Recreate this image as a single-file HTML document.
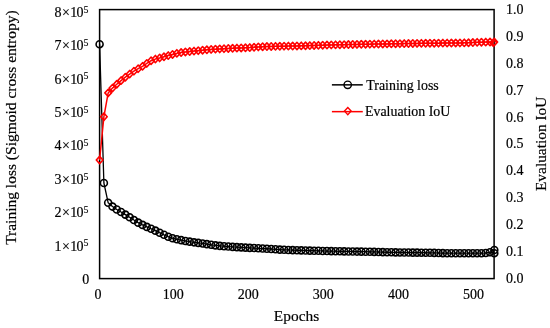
<!DOCTYPE html>
<html><head><meta charset="utf-8"><style>
html,body{margin:0;padding:0;background:#fff;}
svg{display:block;}
text{font-family:"Liberation Serif","Times New Roman",serif;fill:#000;stroke:#000;stroke-width:0.18px;}
</style></head><body>
<svg width="550" height="328" viewBox="0 0 550 328">
<rect x="0" y="0" width="550" height="328" fill="#fff"/>
<g font-size="14">
<text x="82.3" y="283.90">0</text><text y="250.50"><tspan x="54.4">1</tspan><tspan x="62.05">×</tspan><tspan x="70.25">1</tspan><tspan x="76.45">0</tspan><tspan x="83.7" y="246.45" font-size="9.3">5</tspan></text><text y="217.10"><tspan x="54.4">2</tspan><tspan x="62.05">×</tspan><tspan x="70.25">1</tspan><tspan x="76.45">0</tspan><tspan x="83.7" y="213.05" font-size="9.3">5</tspan></text><text y="183.70"><tspan x="54.4">3</tspan><tspan x="62.05">×</tspan><tspan x="70.25">1</tspan><tspan x="76.45">0</tspan><tspan x="83.7" y="179.65" font-size="9.3">5</tspan></text><text y="150.30"><tspan x="54.4">4</tspan><tspan x="62.05">×</tspan><tspan x="70.25">1</tspan><tspan x="76.45">0</tspan><tspan x="83.7" y="146.25" font-size="9.3">5</tspan></text><text y="116.90"><tspan x="54.4">5</tspan><tspan x="62.05">×</tspan><tspan x="70.25">1</tspan><tspan x="76.45">0</tspan><tspan x="83.7" y="112.85" font-size="9.3">5</tspan></text><text y="83.50"><tspan x="54.4">6</tspan><tspan x="62.05">×</tspan><tspan x="70.25">1</tspan><tspan x="76.45">0</tspan><tspan x="83.7" y="79.45" font-size="9.3">5</tspan></text><text y="50.10"><tspan x="54.4">7</tspan><tspan x="62.05">×</tspan><tspan x="70.25">1</tspan><tspan x="76.45">0</tspan><tspan x="83.7" y="46.05" font-size="9.3">5</tspan></text><text y="16.70"><tspan x="54.4">8</tspan><tspan x="62.05">×</tspan><tspan x="70.25">1</tspan><tspan x="76.45">0</tspan><tspan x="83.7" y="12.65" font-size="9.3">5</tspan></text>
<text x="506.0" y="282.80">0.0</text><text x="506.0" y="255.92">0.1</text><text x="506.0" y="229.04">0.2</text><text x="506.0" y="202.16">0.3</text><text x="506.0" y="175.28">0.4</text><text x="506.0" y="148.40">0.5</text><text x="506.0" y="121.52">0.6</text><text x="506.0" y="94.64">0.7</text><text x="506.0" y="67.76">0.8</text><text x="506.0" y="40.88">0.9</text><text x="506.0" y="14.00">1.0</text>
<text x="98.10" y="299.4" text-anchor="middle">0</text><text x="173.19" y="299.4" text-anchor="middle">100</text><text x="248.28" y="299.4" text-anchor="middle">200</text><text x="323.37" y="299.4" text-anchor="middle">300</text><text x="398.46" y="299.4" text-anchor="middle">400</text><text x="473.55" y="299.4" text-anchor="middle">500</text>
</g>
<text x="296.5" y="320.8" font-size="15.4" text-anchor="middle">Epochs</text>
<text transform="translate(16.3,127.6) rotate(-90)" font-size="15.5" text-anchor="middle">Training loss (Sigmoid cross entropy)</text>
<text transform="translate(545.6,143.8) rotate(-90)" font-size="15.4" text-anchor="middle">Evaluation IoU</text>
<rect x="99.6" y="9.6" width="394.50" height="269.00" fill="none" stroke="#000" stroke-width="1.5"/>
<polyline points="99.60,44.20 103.89,183.00 108.18,202.80 112.47,206.58 116.76,209.50 121.05,212.04 125.34,214.59 129.63,217.32 133.92,220.06 138.21,222.65 142.50,224.91 146.79,226.89 151.08,228.75 155.37,230.65 159.66,232.72 163.95,234.82 168.24,236.69 172.53,238.25 176.82,239.30 181.11,240.14 185.40,240.93 189.69,241.67 193.98,242.33 198.28,242.88 202.57,243.47 206.86,244.14 211.15,244.81 215.44,245.39 219.73,245.84 224.02,246.22 228.31,246.56 232.60,246.87 236.89,247.15 241.18,247.40 245.47,247.62 249.76,247.84 254.05,248.07 258.34,248.30 262.63,248.53 266.92,248.77 271.21,249.02 275.50,249.32 279.79,249.59 284.08,249.78 288.37,249.95 292.66,250.10 296.95,250.23 301.24,250.36 305.53,250.48 309.82,250.60 314.11,250.71 318.40,250.82 322.69,250.93 326.98,251.03 331.27,251.12 335.56,251.21 339.85,251.30 344.14,251.38 348.43,251.45 352.72,251.51 357.01,251.58 361.30,251.64 365.59,251.72 369.88,251.80 374.17,251.90 378.46,252.01 382.75,252.13 387.04,252.24 391.33,252.32 395.62,252.39 399.92,252.44 404.21,252.50 408.50,252.54 412.79,252.59 417.08,252.63 421.37,252.68 425.66,252.74 429.95,252.80 434.24,252.89 438.53,253.00 442.82,253.11 447.11,253.18 451.40,253.20 455.69,253.20 459.98,253.20 464.27,253.20 468.56,253.20 472.85,253.20 477.14,253.20 481.43,253.19 485.72,252.99 490.01,252.31 494.30,250.00" fill="none" stroke="#000" stroke-width="1.3" stroke-linejoin="round"/>
<path d="M96.10 44.20a3.5 3.5 0 1 0 7.0 0a3.5 3.5 0 1 0 -7.0 0ZM100.39 183.00a3.5 3.5 0 1 0 7.0 0a3.5 3.5 0 1 0 -7.0 0ZM104.68 202.80a3.5 3.5 0 1 0 7.0 0a3.5 3.5 0 1 0 -7.0 0ZM108.97 206.58a3.5 3.5 0 1 0 7.0 0a3.5 3.5 0 1 0 -7.0 0ZM113.26 209.50a3.5 3.5 0 1 0 7.0 0a3.5 3.5 0 1 0 -7.0 0ZM117.55 212.04a3.5 3.5 0 1 0 7.0 0a3.5 3.5 0 1 0 -7.0 0ZM121.84 214.59a3.5 3.5 0 1 0 7.0 0a3.5 3.5 0 1 0 -7.0 0ZM126.13 217.32a3.5 3.5 0 1 0 7.0 0a3.5 3.5 0 1 0 -7.0 0ZM130.42 220.06a3.5 3.5 0 1 0 7.0 0a3.5 3.5 0 1 0 -7.0 0ZM134.71 222.65a3.5 3.5 0 1 0 7.0 0a3.5 3.5 0 1 0 -7.0 0ZM139.00 224.91a3.5 3.5 0 1 0 7.0 0a3.5 3.5 0 1 0 -7.0 0ZM143.29 226.89a3.5 3.5 0 1 0 7.0 0a3.5 3.5 0 1 0 -7.0 0ZM147.58 228.75a3.5 3.5 0 1 0 7.0 0a3.5 3.5 0 1 0 -7.0 0ZM151.87 230.65a3.5 3.5 0 1 0 7.0 0a3.5 3.5 0 1 0 -7.0 0ZM156.16 232.72a3.5 3.5 0 1 0 7.0 0a3.5 3.5 0 1 0 -7.0 0ZM160.45 234.82a3.5 3.5 0 1 0 7.0 0a3.5 3.5 0 1 0 -7.0 0ZM164.74 236.69a3.5 3.5 0 1 0 7.0 0a3.5 3.5 0 1 0 -7.0 0ZM169.03 238.25a3.5 3.5 0 1 0 7.0 0a3.5 3.5 0 1 0 -7.0 0ZM173.32 239.30a3.5 3.5 0 1 0 7.0 0a3.5 3.5 0 1 0 -7.0 0ZM177.61 240.14a3.5 3.5 0 1 0 7.0 0a3.5 3.5 0 1 0 -7.0 0ZM181.90 240.93a3.5 3.5 0 1 0 7.0 0a3.5 3.5 0 1 0 -7.0 0ZM186.19 241.67a3.5 3.5 0 1 0 7.0 0a3.5 3.5 0 1 0 -7.0 0ZM190.48 242.33a3.5 3.5 0 1 0 7.0 0a3.5 3.5 0 1 0 -7.0 0ZM194.78 242.88a3.5 3.5 0 1 0 7.0 0a3.5 3.5 0 1 0 -7.0 0ZM199.07 243.47a3.5 3.5 0 1 0 7.0 0a3.5 3.5 0 1 0 -7.0 0ZM203.36 244.14a3.5 3.5 0 1 0 7.0 0a3.5 3.5 0 1 0 -7.0 0ZM207.65 244.81a3.5 3.5 0 1 0 7.0 0a3.5 3.5 0 1 0 -7.0 0ZM211.94 245.39a3.5 3.5 0 1 0 7.0 0a3.5 3.5 0 1 0 -7.0 0ZM216.23 245.84a3.5 3.5 0 1 0 7.0 0a3.5 3.5 0 1 0 -7.0 0ZM220.52 246.22a3.5 3.5 0 1 0 7.0 0a3.5 3.5 0 1 0 -7.0 0ZM224.81 246.56a3.5 3.5 0 1 0 7.0 0a3.5 3.5 0 1 0 -7.0 0ZM229.10 246.87a3.5 3.5 0 1 0 7.0 0a3.5 3.5 0 1 0 -7.0 0ZM233.39 247.15a3.5 3.5 0 1 0 7.0 0a3.5 3.5 0 1 0 -7.0 0ZM237.68 247.40a3.5 3.5 0 1 0 7.0 0a3.5 3.5 0 1 0 -7.0 0ZM241.97 247.62a3.5 3.5 0 1 0 7.0 0a3.5 3.5 0 1 0 -7.0 0ZM246.26 247.84a3.5 3.5 0 1 0 7.0 0a3.5 3.5 0 1 0 -7.0 0ZM250.55 248.07a3.5 3.5 0 1 0 7.0 0a3.5 3.5 0 1 0 -7.0 0ZM254.84 248.30a3.5 3.5 0 1 0 7.0 0a3.5 3.5 0 1 0 -7.0 0ZM259.13 248.53a3.5 3.5 0 1 0 7.0 0a3.5 3.5 0 1 0 -7.0 0ZM263.42 248.77a3.5 3.5 0 1 0 7.0 0a3.5 3.5 0 1 0 -7.0 0ZM267.71 249.02a3.5 3.5 0 1 0 7.0 0a3.5 3.5 0 1 0 -7.0 0ZM272.00 249.32a3.5 3.5 0 1 0 7.0 0a3.5 3.5 0 1 0 -7.0 0ZM276.29 249.59a3.5 3.5 0 1 0 7.0 0a3.5 3.5 0 1 0 -7.0 0ZM280.58 249.78a3.5 3.5 0 1 0 7.0 0a3.5 3.5 0 1 0 -7.0 0ZM284.87 249.95a3.5 3.5 0 1 0 7.0 0a3.5 3.5 0 1 0 -7.0 0ZM289.16 250.10a3.5 3.5 0 1 0 7.0 0a3.5 3.5 0 1 0 -7.0 0ZM293.45 250.23a3.5 3.5 0 1 0 7.0 0a3.5 3.5 0 1 0 -7.0 0ZM297.74 250.36a3.5 3.5 0 1 0 7.0 0a3.5 3.5 0 1 0 -7.0 0ZM302.03 250.48a3.5 3.5 0 1 0 7.0 0a3.5 3.5 0 1 0 -7.0 0ZM306.32 250.60a3.5 3.5 0 1 0 7.0 0a3.5 3.5 0 1 0 -7.0 0ZM310.61 250.71a3.5 3.5 0 1 0 7.0 0a3.5 3.5 0 1 0 -7.0 0ZM314.90 250.82a3.5 3.5 0 1 0 7.0 0a3.5 3.5 0 1 0 -7.0 0ZM319.19 250.93a3.5 3.5 0 1 0 7.0 0a3.5 3.5 0 1 0 -7.0 0ZM323.48 251.03a3.5 3.5 0 1 0 7.0 0a3.5 3.5 0 1 0 -7.0 0ZM327.77 251.12a3.5 3.5 0 1 0 7.0 0a3.5 3.5 0 1 0 -7.0 0ZM332.06 251.21a3.5 3.5 0 1 0 7.0 0a3.5 3.5 0 1 0 -7.0 0ZM336.35 251.30a3.5 3.5 0 1 0 7.0 0a3.5 3.5 0 1 0 -7.0 0ZM340.64 251.38a3.5 3.5 0 1 0 7.0 0a3.5 3.5 0 1 0 -7.0 0ZM344.93 251.45a3.5 3.5 0 1 0 7.0 0a3.5 3.5 0 1 0 -7.0 0ZM349.22 251.51a3.5 3.5 0 1 0 7.0 0a3.5 3.5 0 1 0 -7.0 0ZM353.51 251.58a3.5 3.5 0 1 0 7.0 0a3.5 3.5 0 1 0 -7.0 0ZM357.80 251.64a3.5 3.5 0 1 0 7.0 0a3.5 3.5 0 1 0 -7.0 0ZM362.09 251.72a3.5 3.5 0 1 0 7.0 0a3.5 3.5 0 1 0 -7.0 0ZM366.38 251.80a3.5 3.5 0 1 0 7.0 0a3.5 3.5 0 1 0 -7.0 0ZM370.67 251.90a3.5 3.5 0 1 0 7.0 0a3.5 3.5 0 1 0 -7.0 0ZM374.96 252.01a3.5 3.5 0 1 0 7.0 0a3.5 3.5 0 1 0 -7.0 0ZM379.25 252.13a3.5 3.5 0 1 0 7.0 0a3.5 3.5 0 1 0 -7.0 0ZM383.54 252.24a3.5 3.5 0 1 0 7.0 0a3.5 3.5 0 1 0 -7.0 0ZM387.83 252.32a3.5 3.5 0 1 0 7.0 0a3.5 3.5 0 1 0 -7.0 0ZM392.12 252.39a3.5 3.5 0 1 0 7.0 0a3.5 3.5 0 1 0 -7.0 0ZM396.42 252.44a3.5 3.5 0 1 0 7.0 0a3.5 3.5 0 1 0 -7.0 0ZM400.71 252.50a3.5 3.5 0 1 0 7.0 0a3.5 3.5 0 1 0 -7.0 0ZM405.00 252.54a3.5 3.5 0 1 0 7.0 0a3.5 3.5 0 1 0 -7.0 0ZM409.29 252.59a3.5 3.5 0 1 0 7.0 0a3.5 3.5 0 1 0 -7.0 0ZM413.58 252.63a3.5 3.5 0 1 0 7.0 0a3.5 3.5 0 1 0 -7.0 0ZM417.87 252.68a3.5 3.5 0 1 0 7.0 0a3.5 3.5 0 1 0 -7.0 0ZM422.16 252.74a3.5 3.5 0 1 0 7.0 0a3.5 3.5 0 1 0 -7.0 0ZM426.45 252.80a3.5 3.5 0 1 0 7.0 0a3.5 3.5 0 1 0 -7.0 0ZM430.74 252.89a3.5 3.5 0 1 0 7.0 0a3.5 3.5 0 1 0 -7.0 0ZM435.03 253.00a3.5 3.5 0 1 0 7.0 0a3.5 3.5 0 1 0 -7.0 0ZM439.32 253.11a3.5 3.5 0 1 0 7.0 0a3.5 3.5 0 1 0 -7.0 0ZM443.61 253.18a3.5 3.5 0 1 0 7.0 0a3.5 3.5 0 1 0 -7.0 0ZM447.90 253.20a3.5 3.5 0 1 0 7.0 0a3.5 3.5 0 1 0 -7.0 0ZM452.19 253.20a3.5 3.5 0 1 0 7.0 0a3.5 3.5 0 1 0 -7.0 0ZM456.48 253.20a3.5 3.5 0 1 0 7.0 0a3.5 3.5 0 1 0 -7.0 0ZM460.77 253.20a3.5 3.5 0 1 0 7.0 0a3.5 3.5 0 1 0 -7.0 0ZM465.06 253.20a3.5 3.5 0 1 0 7.0 0a3.5 3.5 0 1 0 -7.0 0ZM469.35 253.20a3.5 3.5 0 1 0 7.0 0a3.5 3.5 0 1 0 -7.0 0ZM473.64 253.20a3.5 3.5 0 1 0 7.0 0a3.5 3.5 0 1 0 -7.0 0ZM477.93 253.19a3.5 3.5 0 1 0 7.0 0a3.5 3.5 0 1 0 -7.0 0ZM482.22 252.99a3.5 3.5 0 1 0 7.0 0a3.5 3.5 0 1 0 -7.0 0ZM486.51 252.31a3.5 3.5 0 1 0 7.0 0a3.5 3.5 0 1 0 -7.0 0ZM490.80 250.00a3.5 3.5 0 1 0 7.0 0a3.5 3.5 0 1 0 -7.0 0ZM490.80 253.20a3.5 3.5 0 1 0 7.0 0a3.5 3.5 0 1 0 -7.0 0Z" fill="none" stroke="#000" stroke-width="1.6"/>
<polyline points="99.60,160.00 103.89,116.70 108.18,92.90 112.47,88.08 116.76,84.24 121.05,80.60 125.34,77.20 129.63,74.07 133.92,71.18 138.21,68.68 142.50,66.36 146.79,63.40 151.08,60.72 155.37,59.08 159.66,57.92 163.95,56.77 168.24,55.59 172.53,54.46 176.82,53.36 181.11,52.53 185.40,51.98 189.69,51.53 193.98,51.07 198.28,50.64 202.57,50.23 206.86,49.80 211.15,49.42 215.44,49.13 219.73,48.89 224.02,48.68 228.31,48.47 232.60,48.28 236.89,48.11 241.18,47.96 245.47,47.80 249.76,47.61 254.05,47.28 258.34,46.89 262.63,46.70 266.92,46.56 271.21,46.44 275.50,46.34 279.79,46.26 284.08,46.18 288.37,46.11 292.66,46.04 296.95,45.95 301.24,45.86 305.53,45.75 309.82,45.62 314.11,45.48 318.40,45.34 322.69,45.20 326.98,45.06 331.27,44.93 335.56,44.82 339.85,44.72 344.14,44.63 348.43,44.55 352.72,44.46 357.01,44.39 361.30,44.31 365.59,44.24 369.88,44.17 374.17,44.10 378.46,44.03 382.75,43.95 387.04,43.88 391.33,43.81 395.62,43.73 399.92,43.66 404.21,43.59 408.50,43.52 412.79,43.46 417.08,43.39 421.37,43.33 425.66,43.27 429.95,43.23 434.24,43.19 438.53,43.15 442.82,43.11 447.11,43.08 451.40,43.04 455.69,42.99 459.98,42.93 464.27,42.86 468.56,42.76 472.85,42.55 477.14,42.33 481.43,42.21 485.72,42.10 490.01,42.03 494.30,42.00" fill="none" stroke="#f00" stroke-width="1.5" stroke-linejoin="round"/>
<path d="M99.60 156.35L102.90 160.00L99.60 163.65L96.30 160.00ZM103.89 113.05L107.19 116.70L103.89 120.35L100.59 116.70ZM108.18 89.25L111.48 92.90L108.18 96.55L104.88 92.90ZM112.47 84.43L115.77 88.08L112.47 91.73L109.17 88.08ZM116.76 80.59L120.06 84.24L116.76 87.89L113.46 84.24ZM121.05 76.95L124.35 80.60L121.05 84.25L117.75 80.60ZM125.34 73.55L128.64 77.20L125.34 80.85L122.04 77.20ZM129.63 70.42L132.93 74.07L129.63 77.72L126.33 74.07ZM133.92 67.53L137.22 71.18L133.92 74.83L130.62 71.18ZM138.21 65.03L141.51 68.68L138.21 72.33L134.91 68.68ZM142.50 62.71L145.80 66.36L142.50 70.01L139.20 66.36ZM146.79 59.75L150.09 63.40L146.79 67.05L143.49 63.40ZM151.08 57.07L154.38 60.72L151.08 64.37L147.78 60.72ZM155.37 55.43L158.67 59.08L155.37 62.73L152.07 59.08ZM159.66 54.27L162.96 57.92L159.66 61.57L156.36 57.92ZM163.95 53.12L167.25 56.77L163.95 60.42L160.65 56.77ZM168.24 51.94L171.54 55.59L168.24 59.24L164.94 55.59ZM172.53 50.81L175.83 54.46L172.53 58.11L169.23 54.46ZM176.82 49.71L180.12 53.36L176.82 57.01L173.52 53.36ZM181.11 48.88L184.41 52.53L181.11 56.18L177.81 52.53ZM185.40 48.33L188.70 51.98L185.40 55.63L182.10 51.98ZM189.69 47.88L192.99 51.53L189.69 55.18L186.39 51.53ZM193.98 47.42L197.28 51.07L193.98 54.72L190.68 51.07ZM198.28 46.99L201.58 50.64L198.28 54.29L194.97 50.64ZM202.57 46.58L205.87 50.23L202.57 53.88L199.27 50.23ZM206.86 46.15L210.16 49.80L206.86 53.45L203.56 49.80ZM211.15 45.77L214.45 49.42L211.15 53.07L207.85 49.42ZM215.44 45.48L218.74 49.13L215.44 52.78L212.14 49.13ZM219.73 45.24L223.03 48.89L219.73 52.54L216.43 48.89ZM224.02 45.03L227.32 48.68L224.02 52.33L220.72 48.68ZM228.31 44.82L231.61 48.47L228.31 52.12L225.01 48.47ZM232.60 44.63L235.90 48.28L232.60 51.93L229.30 48.28ZM236.89 44.46L240.19 48.11L236.89 51.76L233.59 48.11ZM241.18 44.31L244.48 47.96L241.18 51.61L237.88 47.96ZM245.47 44.15L248.77 47.80L245.47 51.45L242.17 47.80ZM249.76 43.96L253.06 47.61L249.76 51.26L246.46 47.61ZM254.05 43.63L257.35 47.28L254.05 50.93L250.75 47.28ZM258.34 43.24L261.64 46.89L258.34 50.54L255.04 46.89ZM262.63 43.05L265.93 46.70L262.63 50.35L259.33 46.70ZM266.92 42.91L270.22 46.56L266.92 50.21L263.62 46.56ZM271.21 42.79L274.51 46.44L271.21 50.09L267.91 46.44ZM275.50 42.69L278.80 46.34L275.50 49.99L272.20 46.34ZM279.79 42.61L283.09 46.26L279.79 49.91L276.49 46.26ZM284.08 42.53L287.38 46.18L284.08 49.83L280.78 46.18ZM288.37 42.46L291.67 46.11L288.37 49.76L285.07 46.11ZM292.66 42.39L295.96 46.04L292.66 49.69L289.36 46.04ZM296.95 42.30L300.25 45.95L296.95 49.60L293.65 45.95ZM301.24 42.21L304.54 45.86L301.24 49.51L297.94 45.86ZM305.53 42.10L308.83 45.75L305.53 49.40L302.23 45.75ZM309.82 41.97L313.12 45.62L309.82 49.27L306.52 45.62ZM314.11 41.83L317.41 45.48L314.11 49.13L310.81 45.48ZM318.40 41.69L321.70 45.34L318.40 48.99L315.10 45.34ZM322.69 41.55L325.99 45.20L322.69 48.85L319.39 45.20ZM326.98 41.41L330.28 45.06L326.98 48.71L323.68 45.06ZM331.27 41.28L334.57 44.93L331.27 48.58L327.97 44.93ZM335.56 41.17L338.86 44.82L335.56 48.47L332.26 44.82ZM339.85 41.07L343.15 44.72L339.85 48.37L336.55 44.72ZM344.14 40.98L347.44 44.63L344.14 48.28L340.84 44.63ZM348.43 40.90L351.73 44.55L348.43 48.20L345.13 44.55ZM352.72 40.81L356.02 44.46L352.72 48.11L349.42 44.46ZM357.01 40.74L360.31 44.39L357.01 48.04L353.71 44.39ZM361.30 40.66L364.60 44.31L361.30 47.96L358.00 44.31ZM365.59 40.59L368.89 44.24L365.59 47.89L362.29 44.24ZM369.88 40.52L373.18 44.17L369.88 47.82L366.58 44.17ZM374.17 40.45L377.47 44.10L374.17 47.75L370.87 44.10ZM378.46 40.38L381.76 44.03L378.46 47.68L375.16 44.03ZM382.75 40.30L386.05 43.95L382.75 47.60L379.45 43.95ZM387.04 40.23L390.34 43.88L387.04 47.53L383.74 43.88ZM391.33 40.16L394.63 43.81L391.33 47.46L388.03 43.81ZM395.62 40.08L398.93 43.73L395.62 47.38L392.32 43.73ZM399.92 40.01L403.22 43.66L399.92 47.31L396.62 43.66ZM404.21 39.94L407.51 43.59L404.21 47.24L400.91 43.59ZM408.50 39.87L411.80 43.52L408.50 47.17L405.20 43.52ZM412.79 39.81L416.09 43.46L412.79 47.11L409.49 43.46ZM417.08 39.74L420.38 43.39L417.08 47.04L413.78 43.39ZM421.37 39.68L424.67 43.33L421.37 46.98L418.07 43.33ZM425.66 39.62L428.96 43.27L425.66 46.92L422.36 43.27ZM429.95 39.58L433.25 43.23L429.95 46.88L426.65 43.23ZM434.24 39.54L437.54 43.19L434.24 46.84L430.94 43.19ZM438.53 39.50L441.83 43.15L438.53 46.80L435.23 43.15ZM442.82 39.46L446.12 43.11L442.82 46.76L439.52 43.11ZM447.11 39.43L450.41 43.08L447.11 46.73L443.81 43.08ZM451.40 39.39L454.70 43.04L451.40 46.69L448.10 43.04ZM455.69 39.34L458.99 42.99L455.69 46.64L452.39 42.99ZM459.98 39.28L463.28 42.93L459.98 46.58L456.68 42.93ZM464.27 39.21L467.57 42.86L464.27 46.51L460.97 42.86ZM468.56 39.11L471.86 42.76L468.56 46.41L465.26 42.76ZM472.85 38.90L476.15 42.55L472.85 46.20L469.55 42.55ZM477.14 38.68L480.44 42.33L477.14 45.98L473.84 42.33ZM481.43 38.56L484.73 42.21L481.43 45.86L478.13 42.21ZM485.72 38.45L489.02 42.10L485.72 45.75L482.42 42.10ZM490.01 38.38L493.31 42.03L490.01 45.68L486.71 42.03ZM494.30 38.35L497.60 42.00L494.30 45.65L491.00 42.00ZM493.40 39.15L496.70 42.80L493.40 46.45L490.10 42.80Z" fill="none" stroke="#f00" stroke-width="1.6" stroke-linejoin="round"/>
<g>
<line x1="331.9" y1="84.85" x2="362.8" y2="84.85" stroke="#000" stroke-width="1.5"/>
<circle cx="347.7" cy="84.8" r="3.7" fill="none" stroke="#000" stroke-width="1.4"/>
<line x1="331.9" y1="111.65" x2="362.8" y2="111.65" stroke="#f00" stroke-width="1.5"/>
<path d="M347.80 107.45L351.10 111.10L347.80 114.75L344.50 111.10Z" fill="none" stroke="#f00" stroke-width="1.4"/>
<text x="366.3" y="89.6" font-size="13.9">Training loss</text>
<text x="365.0" y="116.0" font-size="13.9">Evaluation IoU</text>
</g>
</svg>
</body></html>
